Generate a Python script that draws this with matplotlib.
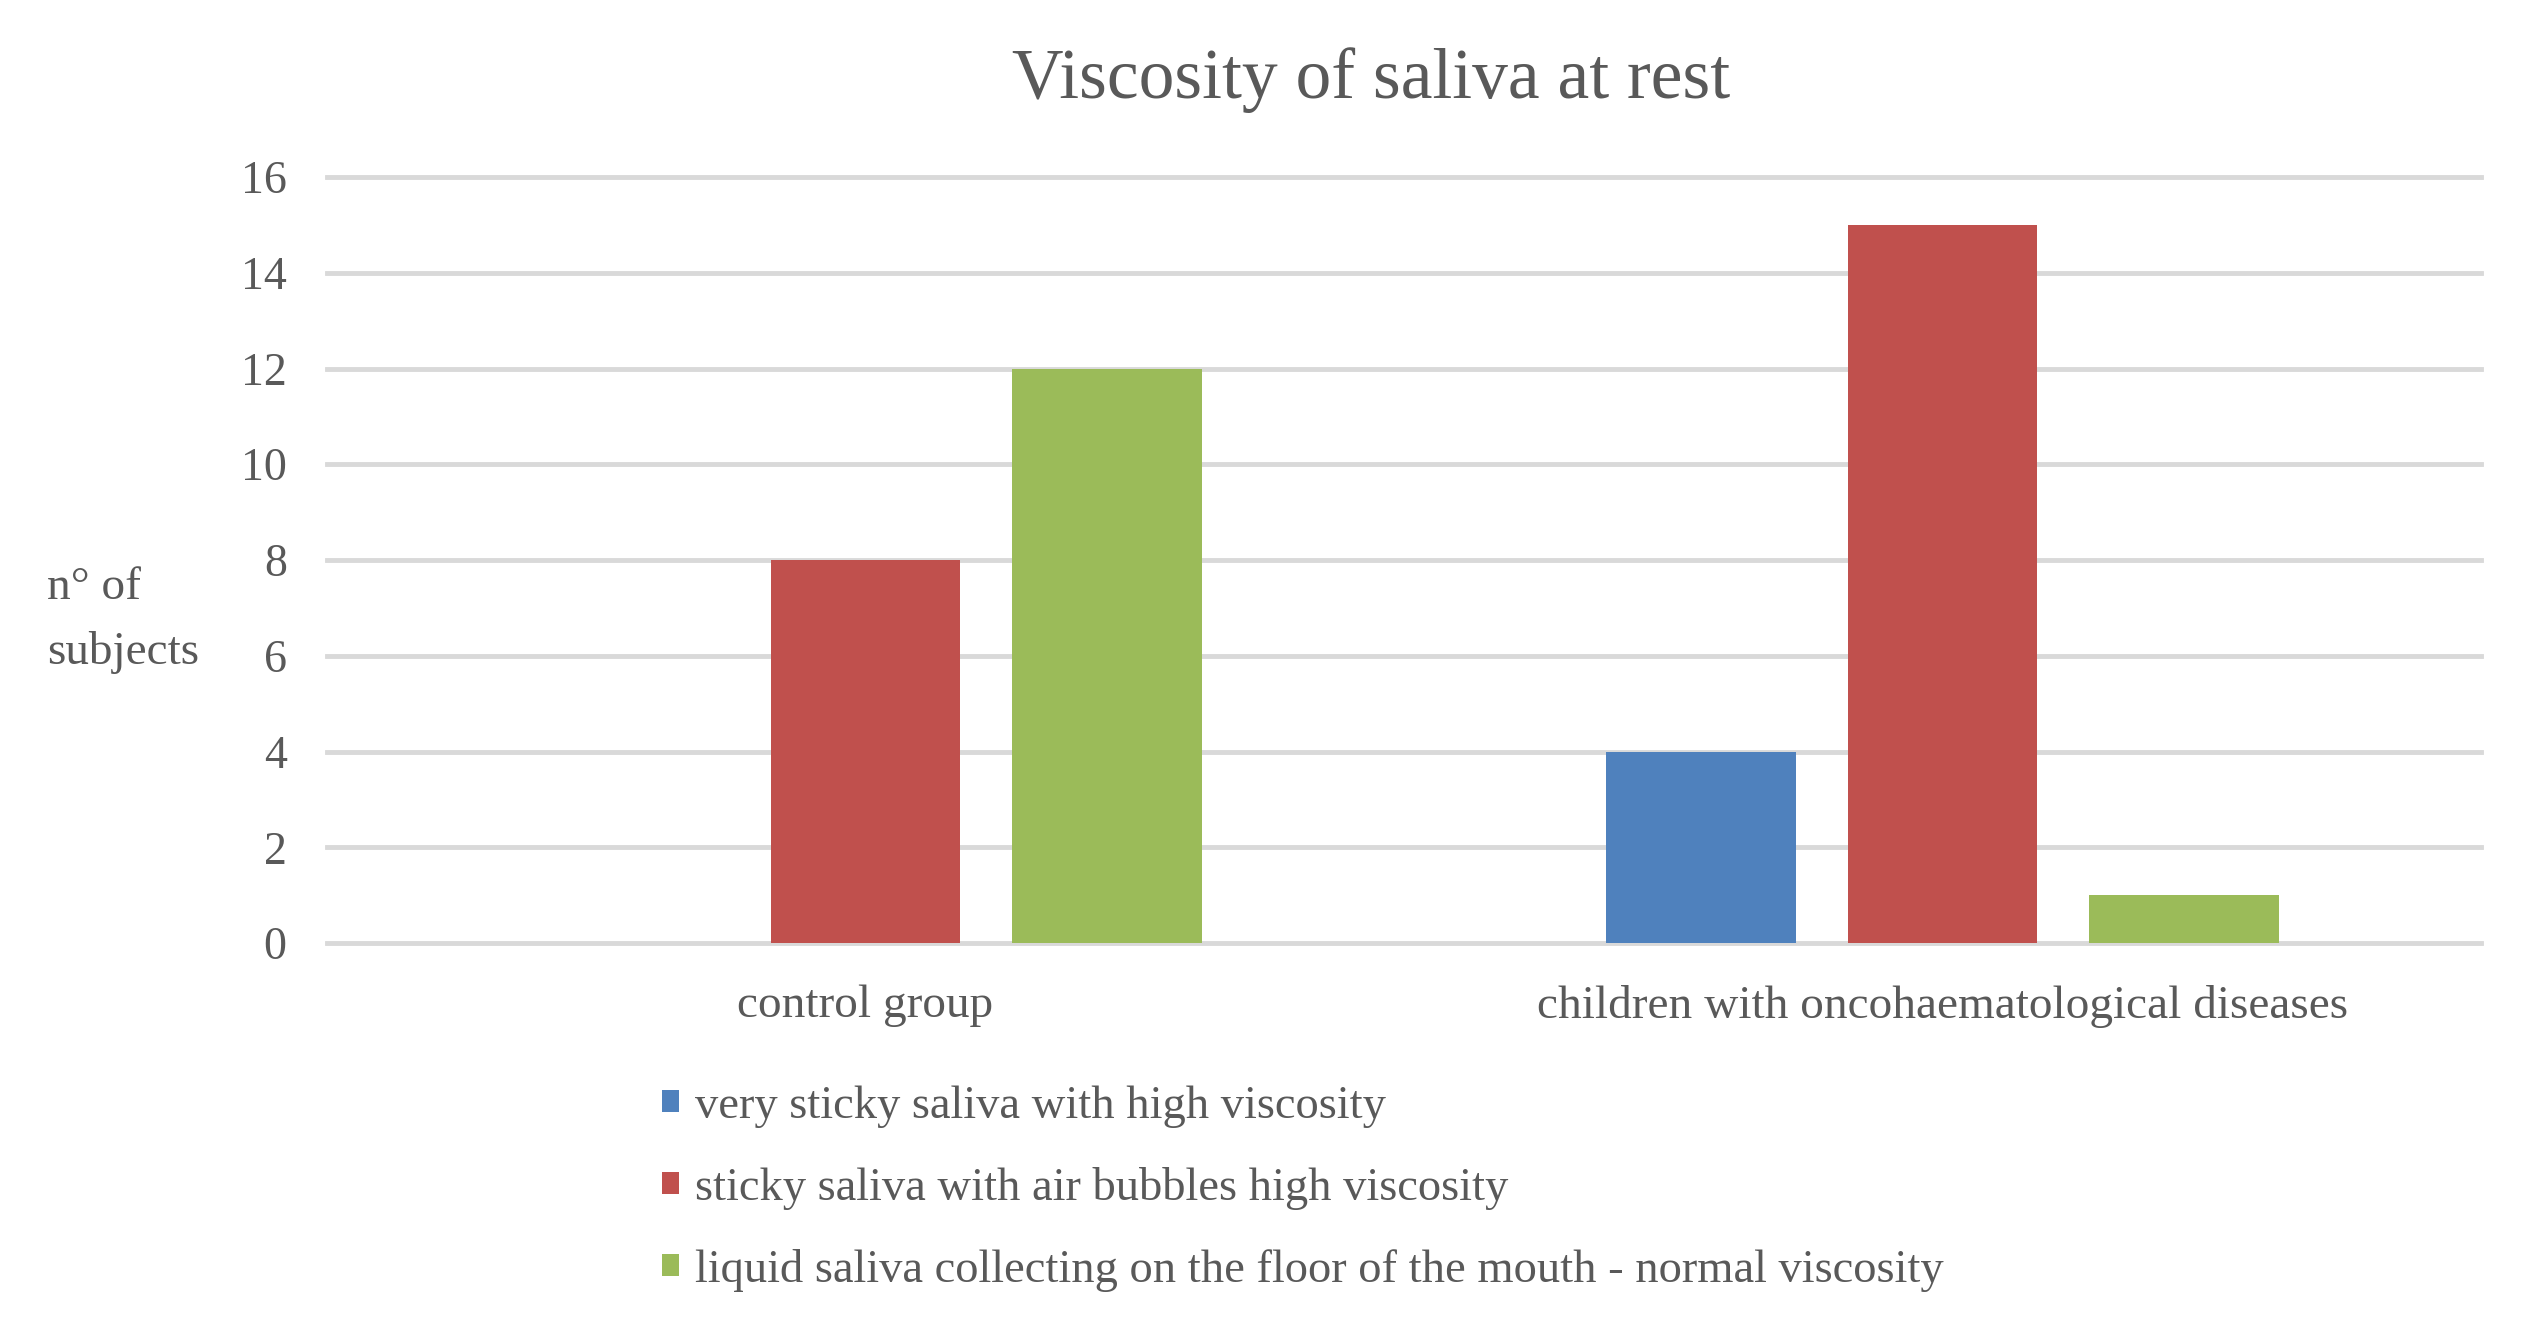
import matplotlib
matplotlib.use("Agg")
import matplotlib.pyplot as plt
import numpy as np
from matplotlib.patches import Patch

# data
groups = ["control group", "children with oncohaematological diseases"]
series_names = [
    "very sticky saliva with high viscosity",
    "sticky saliva with air bubbles high viscosity",
    "liquid saliva collecting on the floor of the mouth - normal viscosity",
]
very_sticky = [0, 4]
sticky_bubbles = [8, 15]
liquid_normal = [12, 1]
y_ticks = [0, 2, 4, 6, 8, 10, 12, 14, 16]

colors = ["#4F81BD", "#C0504D", "#9BBB59"]
text_color = "#595959"
grid_color = "#D9D9D9"

plt.rcParams["font.family"] = ["Liberation Serif", "DejaVu Serif"]

W, H = 2531, 1327
fig = plt.figure(figsize=(W / 100, H / 100), dpi=100)
fig.patch.set_facecolor("white")

# axes placed in pixel terms of the reference
left, right, bottom, top = 327, 2481, 943, 177
ax = fig.add_axes([left / W, 1 - bottom / H, (right - left) / W, (bottom - top) / H])

x = np.arange(len(groups))
width = 0.176
step = 0.224
for i, vals in enumerate([very_sticky, sticky_bubbles, liquid_normal]):
    ax.bar(x + (i - 1) * step, vals, width, color=colors[i], zorder=3)

ax.set_xlim(-0.5, 1.5)
ax.set_ylim(0, 16)

for t in y_ticks:
    ax.axhline(t, color=grid_color, lw=3.5, zorder=1, clip_on=False)

for s in ax.spines.values():
    s.set_visible(False)

ax.set_yticks(y_ticks)
ax.set_yticklabels([str(t) for t in y_ticks])
ax.set_xticks(x)
ax.set_xticklabels(groups)
ax.tick_params(axis="y", length=0, pad=29, labelsize=33, labelcolor=text_color)
ax.tick_params(axis="x", length=0, pad=30, labelsize=34, labelcolor=text_color)

fig.text(1371 / W, 1 - 80 / H, "Viscosity of saliva at rest", ha="center", va="center",
         fontsize=51.5, color=text_color)

fig.text(47 / W, 1 - 620 / H, "n° of\nsubjects", ha="left", va="center",
         fontsize=34, color=text_color, linespacing=1.68)

handles = [Patch(facecolor=c, edgecolor="none") for c in colors]
leg = fig.legend(handles, series_names, loc="upper left",
                 bbox_to_anchor=(662 / W, 1 - 1085 / H), frameon=False,
                 fontsize=33.5, handlelength=0.36, handleheight=0.36,
                 handletextpad=0.35, labelspacing=0.84, borderpad=0,
                 borderaxespad=0)
for t in leg.get_texts():
    t.set_color(text_color)

fig.savefig("out.png", dpi=100, facecolor="white")
